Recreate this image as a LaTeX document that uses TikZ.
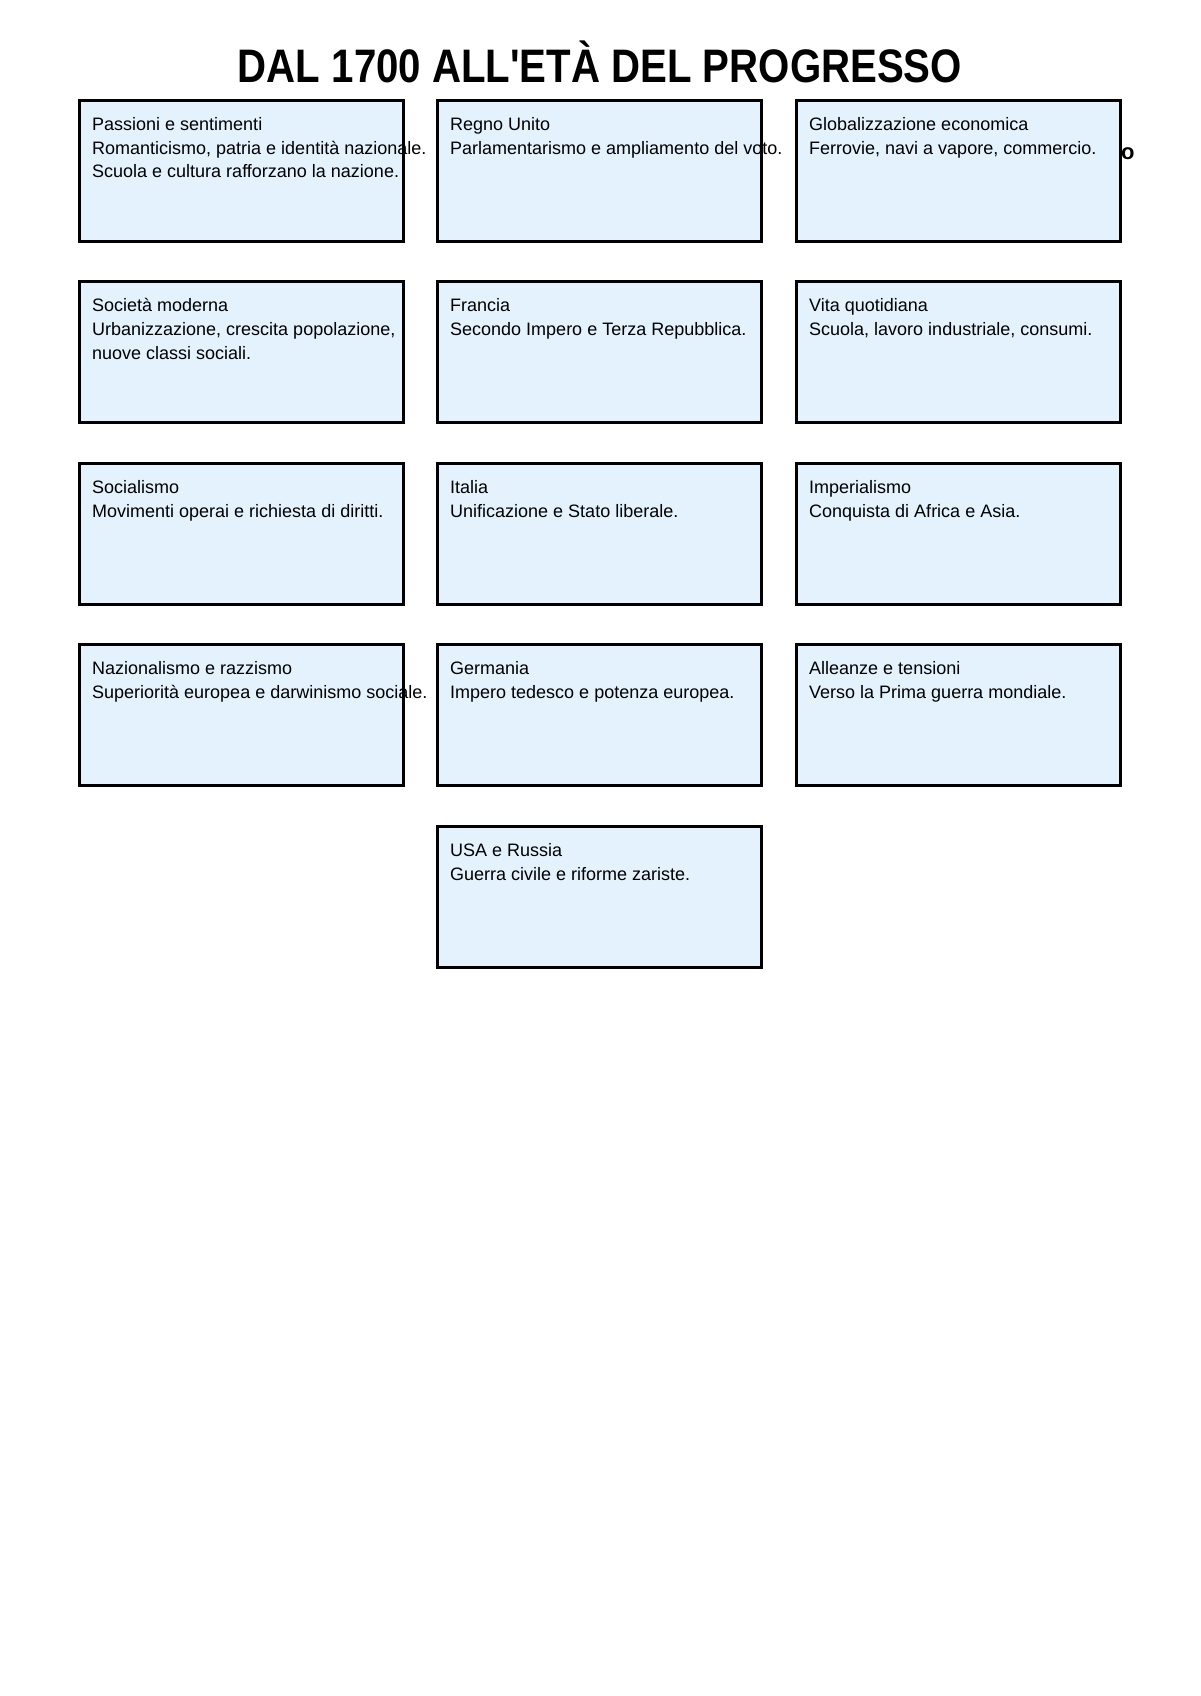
\documentclass[tikz,border=0pt]{standalone}
\usepackage{fontspec}
\setmainfont{Liberation Sans}
\definecolor{boxfill}{HTML}{E3F2FD}
\begin{document}
\begin{tikzpicture}[x=1pt,y=-1pt,
  card/.style={draw=black, line width=3.2pt, fill=boxfill, minimum width=324pt, minimum height=141pt, inner sep=0pt, anchor=north west},
  cardtext/.style={anchor=north west, align=left, inner sep=0pt, font=\fontsize{18}{23.8}\selectfont},
  titletext/.style={anchor=base, inner sep=0pt, font=\fontsize{47}{50}\selectfont\bfseries}]
\useasboundingbox (0,0) rectangle (1200,1696);
\node[titletext] (title) at (600,83) {\scalebox{0.855}[1]{DAL 1700 ALL\textquotesingle ETÀ DEL PROGRESSO}};
% column x: 78, 436, 795 ; row y: 99, 280, 462, 643, 825
\def\cardat#1#2#3#4{%
  \node[card] (#1) at (#2,#3) {};
  \node[cardtext] (#1t) at ([shift={(14,18)}]#1.north west) {#4};}
\cardat{a1}{78}{99}{Passioni e sentimenti\\Romanticismo, patria e identità nazionale.\\Scuola e cultura rafforzano la nazione.}
\cardat{a2}{436}{99}{Regno Unito\\Parlamentarismo e ampliamento del voto.}
\cardat{a3}{795}{99}{Globalizzazione economica\\Ferrovie, navi a vapore, commercio.}
\cardat{b1}{78}{280}{Società moderna\\Urbanizzazione, crescita popolazione,\\nuove classi sociali.}
\cardat{b2}{436}{280}{Francia\\Secondo Impero e Terza Repubblica.}
\cardat{b3}{795}{280}{Vita quotidiana\\Scuola, lavoro industriale, consumi.}
\cardat{c1}{78}{462}{Socialismo\\Movimenti operai e richiesta di diritti.}
\cardat{c2}{436}{462}{Italia\\Unificazione e Stato liberale.}
\cardat{c3}{795}{462}{Imperialismo\\Conquista di Africa e Asia.}
\cardat{d1}{78}{643}{Nazionalismo e razzismo\\Superiorità europea e darwinismo sociale.}
\cardat{d2}{436}{643}{Germania\\Impero tedesco e potenza europea.}
\cardat{d3}{795}{643}{Alleanze e tensioni\\Verso la Prima guerra mondiale.}
\cardat{e2}{436}{825}{USA e Russia\\Guerra civile e riforme zariste.}
\node[anchor=base west, inner sep=0pt, font=\fontsize{22}{24}\selectfont\bfseries] (stray) at (1121,160) {o};
\end{tikzpicture}
\end{document}
